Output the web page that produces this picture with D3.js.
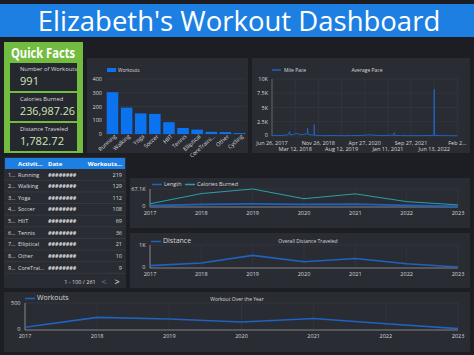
<!DOCTYPE html>
<html><head><meta charset="utf-8">
<script src="https://cdn.jsdelivr.net/npm/d3@7"></script>
<style>html,body{margin:0;padding:0;background:#1d1e23;}svg{display:block;font-family:"Open Sans",sans-serif;}</style>
</head><body><svg id="c" width="474" height="355"></svg>
<script>
// ---------- DATA ----------
const titleText = "Elizabeth's Workout Dashboard";
const factLabels = ["Number of Workouts", "Calories Burned", "Distance Traveled"];
const factValues = ["991", "236,987.26", "1,782.72"];

const activities = ["Running","Walking","Yoga","Soccer","HIIT","Tennis","Elliptical","CoreTraini...","Other","Cycling"];
const activityWorkouts = [304,192,150,146,86,44,32,16,14,7];
const barTicks = [0,100,200,300,400];

const paceDates = ["2017-06-26","2017-08-10","2017-10-05","2017-12-20","2018-01-10","2018-01-14","2018-02-20","2018-04-01","2018-05-10","2018-06-15","2018-07-25","2018-07-28","2018-08-05","2018-09-20","2018-10-08","2018-10-11","2018-10-14","2018-12-10","2019-02-15","2019-04-20","2019-07-01","2019-09-15","2019-12-01","2020-02-10","2020-04-20","2020-07-01","2020-09-10","2020-11-20","2021-01-25","2021-03-20","2021-03-23","2021-03-26","2021-06-01","2021-08-15","2021-10-20","2021-12-20","2022-02-20","2022-04-25","2022-06-08","2022-06-12","2022-06-16","2022-08-20","2022-10-25","2022-12-20","2023-02-27"];
const paceValues = [60,120,80,200,800,150,300,450,200,300,400,1400,250,200,150,2000,120,80,60,90,70,60,80,90,120,200,100,80,120,150,600,100,80,60,70,60,80,90,100,8200,100,80,60,50,40];
const paceYTicks = [0,2500,5000,7500,10000];
const paceXTicks = ["2017-06-26","2018-03-12","2018-11-26","2019-08-12","2020-04-27","2021-01-11","2021-09-27","2022-06-13","2023-02-26"];

const tableActivities = ["Running","Walking","Yoga","Soccer","HIIT","Tennis","Elliptical","Other","CoreTrai..."];
const tableWorkouts = [219,129,112,108,69,36,21,10,9];

const years = ["2017","2018","2019","2020","2021","2022","2023"];
const lengthByYear = [5000,10000,12000,10000,11000,6000,2000];
const caloriesByYear = [12000,50000,67100,31000,49000,20000,7900];
const distanceByYear = [105,215,550,270,410,185,43];
const workoutsByYear = [50,233,204,148,214,117,25];

// ---------- STYLE ----------
const BG="#1d1e23", PANEL="#2a2c34", BLUE="#1e7fe3", BAR="#0b72f0", LINE="#1f62bf", TEAL="#2aa0a6", GREEN="#72bd40", TXT="#d8d8d8", GRID="#3a3c45";
const svg = d3.select("#c");
svg.append("rect").attr("width",474).attr("height",355).attr("fill",BG);
function panel(x,y,w,h,fill){svg.append("rect").attr("x",x).attr("y",y).attr("width",w).attr("height",h).attr("fill",fill||PANEL);}

// Title
svg.append("rect").attr("x",0).attr("y",4).attr("width",474).attr("height",33).attr("fill",BLUE);
svg.append("text").attr("x",239).attr("y",31).attr("text-anchor","middle").attr("fill","#fff").attr("font-size",27.5).text(titleText);

// Quick facts
panel(4,42,79,111,GREEN);
svg.append("text").attr("x",11).attr("y",57.5).attr("fill","#fff").attr("font-size",15).attr("font-weight","bold")
  .attr("textLength",64).attr("lengthAdjust","spacingAndGlyphs").text("Quick Facts");
const boxY=[63,93,123];
const valLen=[19,55,44];
factLabels.forEach((l,i)=>{
  panel(10,boxY[i],67,28,"#262830");
  svg.append("text").attr("x",20).attr("y",boxY[i]+8).attr("fill","#ddd").attr("font-size",5.8).text(l);
  svg.append("text").attr("x",20).attr("y",boxY[i]+21.5).attr("fill","#cfe6b6").attr("font-size",11.5)
    .attr("textLength",valLen[i]).attr("lengthAdjust","spacingAndGlyphs").text(factValues[i]);
});

// Bar chart
panel(87,58,161,95);
const bx=d3.scaleBand().domain(activities).range([106,246]).paddingInner(0.18).paddingOuter(0.05);
const by=d3.scaleLinear().domain([0,400]).range([134,79]);
const gB=svg.append("g");
gB.selectAll("line.g").data(barTicks).join("line").attr("x1",106).attr("x2",246).attr("y1",d=>by(d)).attr("y2",d=>by(d)).attr("stroke",GRID).attr("stroke-width",0.5);
gB.selectAll("rect.b").data(activities).join("rect").attr("x",d=>bx(d)).attr("width",bx.bandwidth()).attr("y",(d,i)=>by(activityWorkouts[i])).attr("height",(d,i)=>by(0)-by(activityWorkouts[i])).attr("fill",BAR);
gB.selectAll("text.y").data(barTicks).join("text").attr("x",102).attr("y",d=>by(d)+2).attr("text-anchor","end").attr("fill",TXT).attr("font-size",5.5).text(d=>d);
gB.selectAll("text.x").data(activities).join("text").attr("transform",d=>`translate(${bx(d)+bx.bandwidth()/2+4},137) rotate(-42)`).attr("text-anchor","end").attr("fill",TXT).attr("font-size",5.6).text(d=>d);
gB.append("rect").attr("x",107).attr("y",68).attr("width",9).attr("height",4).attr("fill",BAR);
gB.append("text").attr("x",118).attr("y",72).attr("fill",TXT).attr("font-size",4.8).text("Workouts");

// Mile pace chart
panel(252,58,218,95);
const parse=d3.timeParse("%Y-%m-%d");
const px=d3.scaleTime().domain([parse("2017-06-26"),parse("2023-03-05")]).range([272,458]);
const py=d3.scaleLinear().domain([0,10000]).range([136,79]);
const gP=svg.append("g");
gP.selectAll("line.gy").data(paceYTicks).join("line").attr("x1",272).attr("x2",458).attr("y1",d=>py(d)).attr("y2",d=>py(d)).attr("stroke",GRID).attr("stroke-width",0.5);
gP.selectAll("line.gx").data(paceXTicks).join("line").attr("x1",d=>px(parse(d))).attr("x2",d=>px(parse(d))).attr("y1",79).attr("y2",136).attr("stroke",GRID).attr("stroke-width",0.5);
gP.append("line").attr("x1",272).attr("x2",272).attr("y1",79).attr("y2",136).attr("stroke","#888").attr("stroke-width",0.6);
gP.append("path").datum(paceDates.map((d,i)=>[parse(d),paceValues[i]])).attr("d",d3.line().x(d=>px(d[0])).y(d=>py(d[1]))).attr("fill","none").attr("stroke",LINE).attr("stroke-width",1);
const fmtK=d=>d===0?"0":(d/1000)+"K";
gP.selectAll("text.y").data(paceYTicks).join("text").attr("x",268).attr("y",d=>py(d)+(d===0?0.5:2)).attr("text-anchor","end").attr("fill",TXT).attr("font-size",5.5).text(fmtK);
const fmtD=d3.timeFormat("%b %d, %Y");
gP.selectAll("text.x").data(paceXTicks).join("text").attr("x",d=>px(parse(d))).attr("y",(d,i)=>i%2===0?144.5:150.5).attr("text-anchor","middle").attr("fill",TXT).attr("font-size",5.5).text((d,i)=>i===paceXTicks.length-1?"Feb 2...":fmtD(parse(d)));
gP.append("line").attr("x1",272).attr("x2",281).attr("y1",70).attr("y2",70).attr("stroke",LINE).attr("stroke-width",1.5);
gP.append("text").attr("x",284).attr("y",72).attr("fill",TXT).attr("font-size",5).text("Mile Pace");
gP.append("text").attr("x",367).attr("y",72).attr("text-anchor","middle").attr("fill",TXT).attr("font-size",5).text("Average Pace");

// Table
panel(4,157,122,131);
svg.append("rect").attr("x",5).attr("y",158).attr("width",120).attr("height",11).attr("fill",BLUE);
[["Activit...",18,"start"],["Date",48,"start"],["Workouts...",122,"end"]].forEach(h=>{
  svg.append("text").attr("x",h[1]).attr("y",166).attr("text-anchor",h[2]).attr("fill","#fff").attr("font-size",6).attr("font-weight","bold").text(h[0]);
});
const rowY=d3.scaleLinear().domain([0,8]).range([174.5,267.5]);
tableActivities.forEach((a,i)=>{
  const y=rowY(i);
  svg.append("line").attr("x1",5).attr("x2",125).attr("y1",y+5.8).attr("y2",y+5.8).attr("stroke","#40424a").attr("stroke-width",0.6);
  svg.append("text").attr("x",8).attr("y",y+2).attr("fill","#ddd").attr("font-size",5.5).text((i+1)+"...");
  svg.append("text").attr("x",18).attr("y",y+2).attr("fill","#ddd").attr("font-size",5.5).text(a);
  svg.append("text").attr("x",48).attr("y",y+2).attr("fill","#ddd").attr("font-size",5.5).attr("font-weight","bold").text("########");
  svg.append("text").attr("x",122).attr("y",y+2).attr("text-anchor","end").attr("fill","#ddd").attr("font-size",5.5).text(tableWorkouts[i]);
});
svg.append("text").attr("x",80).attr("y",283.5).attr("text-anchor","middle").attr("fill","#ddd").attr("font-size",5.5).text("1 - 100 / 261");
svg.append("text").attr("x",104).attr("y",285).attr("text-anchor","middle").attr("fill","#777").attr("font-size",9).text("<");
svg.append("text").attr("x",117).attr("y",285).attr("text-anchor","middle").attr("fill","#eee").attr("font-size",9).text(">");

// Line chart helper
function lineChart(o){
  panel(o.px,o.py,o.pw,o.ph);
  const g=svg.append("g");
  const x=d3.scalePoint().domain(years).range(o.xr);
  const y=d3.scaleLinear().domain([0,o.max]).range(o.yr);
  g.selectAll("line.v").data(years).join("line").attr("x1",d=>x(d)).attr("x2",d=>x(d)).attr("y1",o.yr[1]).attr("y2",o.yr[0]).attr("stroke",GRID).attr("stroke-width",0.5);
  g.append("line").attr("x1",o.xr[0]).attr("x2",o.xr[1]).attr("y1",y(o.max)).attr("y2",y(o.max)).attr("stroke",GRID).attr("stroke-width",0.5);
  g.append("line").attr("x1",o.xr[0]).attr("x2",o.xr[1]).attr("y1",o.yr[0]).attr("y2",o.yr[0]).attr("stroke","#aaa").attr("stroke-width",0.7);
  g.append("line").attr("x1",o.xr[0]).attr("x2",o.xr[0]).attr("y1",o.yr[1]).attr("y2",o.yr[0]).attr("stroke","#aaa").attr("stroke-width",0.7);
  o.series.forEach(s=>{
    g.append("path").datum(s.values).attr("d",d3.line().x((d,i)=>x(years[i])).y(d=>y(d))).attr("fill","none").attr("stroke",s.color).attr("stroke-width",s.w||1.3);
  });
  o.yticks.forEach((t,i)=>g.append("text").attr("x",o.xr[0]-4.5).attr("y",y(t)+(t===0?0.5:2)).attr("text-anchor","end").attr("fill",TXT).attr("font-size",5.5).text(o.ylabels[i]));
  g.selectAll("text.x").data(years).join("text").attr("x",d=>x(d)).attr("y",o.yr[0]+7.5).attr("text-anchor","middle").attr("fill",TXT).attr("font-size",5.5).text(d=>d);
  o.legend.forEach(l=>{
    g.append("line").attr("x1",l.x).attr("x2",l.x+10).attr("y1",l.y-1.5).attr("y2",l.y-1.5).attr("stroke",l.color).attr("stroke-width",1.5);
    g.append("text").attr("x",l.x+12).attr("y",l.y).attr("fill",TXT).attr("font-size",l.fs).text(l.text);
  });
  if(o.title) g.append("text").attr("x",o.title[1]).attr("y",o.title[2]).attr("text-anchor","middle").attr("fill",TXT).attr("font-size",5).text(o.title[0]);
}

lineChart({px:130,py:178,pw:340,ph:50,xr:[150,458],yr:[207,189],max:67100,yticks:[0,67100],ylabels:["0","67.1K"],
  series:[{values:lengthByYear,color:LINE,w:1.8},{values:caloriesByYear,color:TEAL,w:1}],
  legend:[{x:152,y:186,color:LINE,text:"Length",fs:5.5},{x:185,y:186,color:TEAL,text:"Calories Burned",fs:5.5}]});

lineChart({px:130,py:233,pw:340,ph:55,xr:[150,458],yr:[268,245],max:1000,yticks:[0,1000],ylabels:["0","1K"],
  series:[{values:distanceByYear,color:LINE,w:1.6}],
  legend:[{x:151,y:243,color:LINE,text:"Distance",fs:7}],title:["Overall Distance Traveled",308,243]});

lineChart({px:4,py:292,pw:466,ph:60,xr:[25,458],yr:[330,303],max:500,yticks:[0,500],ylabels:["0","500"],
  series:[{values:workoutsByYear,color:LINE,w:1.6}],
  legend:[{x:25,y:300,color:LINE,text:"Workouts",fs:7}],title:["Workout Over the Year",237,301]});
</script></body></html>
